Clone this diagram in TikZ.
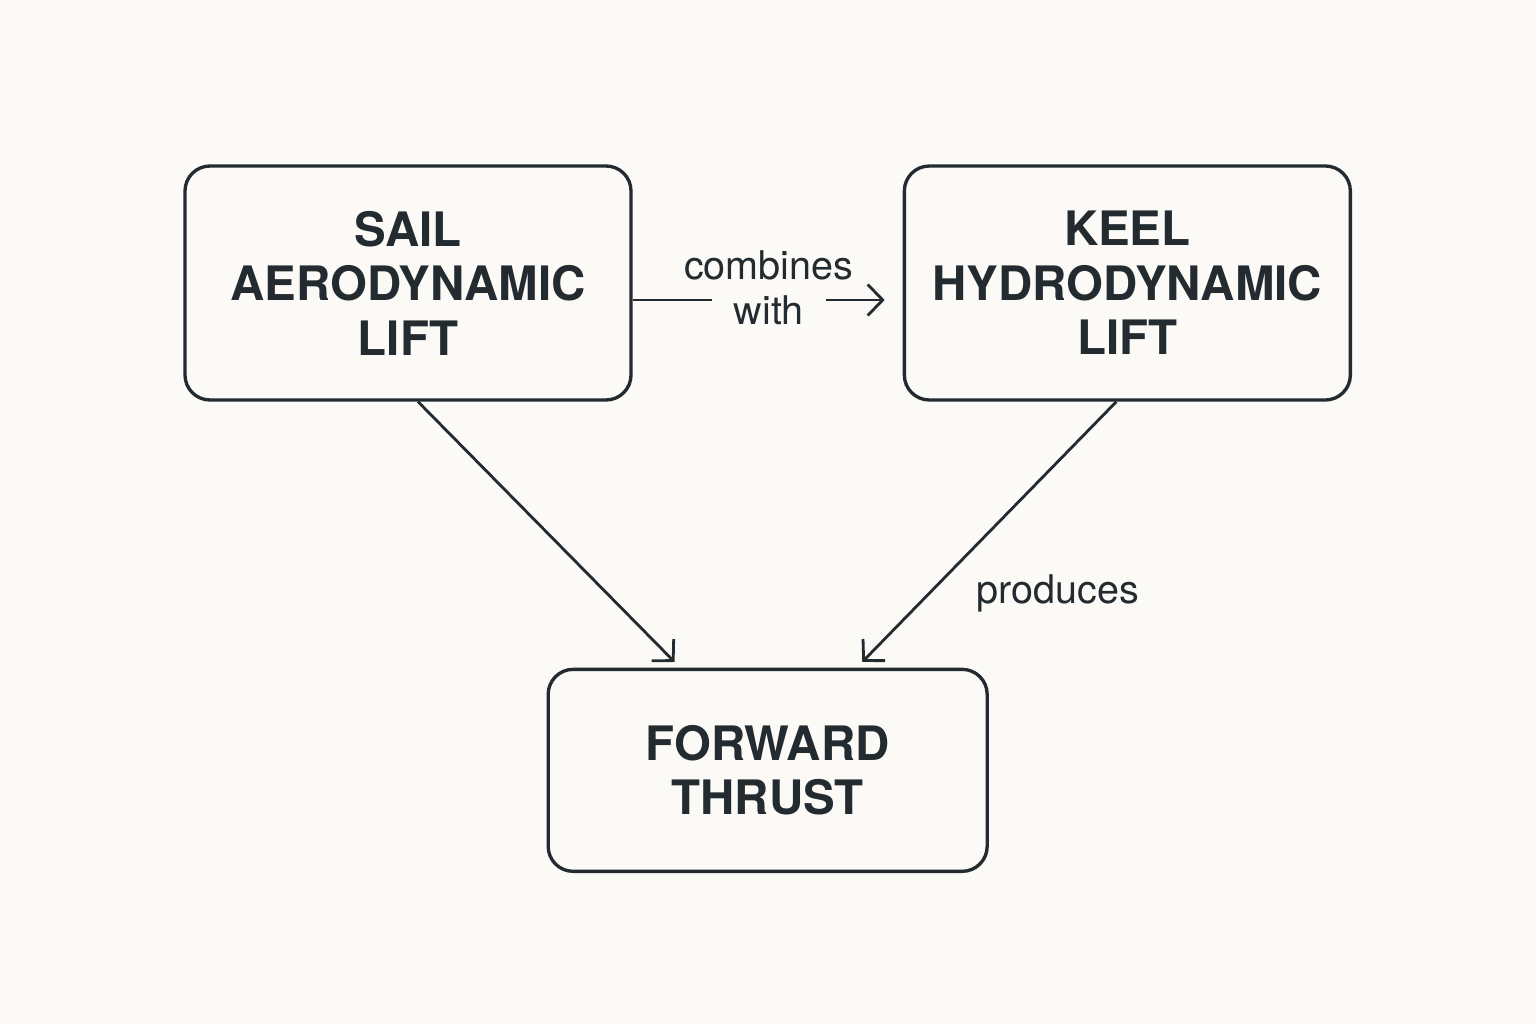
\documentclass[tikz,border=0pt]{standalone}
\usepackage{fontspec}
\setmainfont{TeX Gyre Heros}
\usepackage{tikz}
\usetikzlibrary{arrows.meta,positioning,calc}
\definecolor{ink}{RGB}{35,43,48}
\definecolor{paper}{RGB}{251,250,246}

\begin{document}
\begin{tikzpicture}[
  block/.style={rectangle,rounded corners=5mm,draw=ink,line width=1.9pt,fill=paper,text=ink,align=center,
    font=\bfseries\fontsize{27}{31}\selectfont,minimum width=8.92cm,minimum height=4.68cm},
  arrow/.style={-{Straight Barb[length=3mm,width=6.2mm]},line width=1.6pt,draw=ink},
  lbl/.style={text=ink,font=\fontsize{22.5}{26}\selectfont,align=center}
]
\fill[paper] (0,0) rectangle (30.72,20.48);
\useasboundingbox (0,0) rectangle (30.72,20.48);
\node[block] (sail) at (8.16,14.82) {SAIL\\AERODYNAMIC\\LIFT};
\node[block,right=5.4cm of sail] (keel) {KEEL\\HYDRODYNAMIC\\LIFT};
\coordinate (mid) at ($(sail.south)!0.5!(keel.south)$);
\node[block,below=5.32cm of mid,minimum width=8.78cm,minimum height=4.04cm] (thrust) {FORWARD\\THRUST};
\draw[arrow] ([yshift=-3.4mm]sail.east) -- ([xshift=-3.6mm,yshift=-3.4mm]keel.west)
  node[lbl,pos=.54,yshift=-2mm,fill=paper,inner xsep=4.4mm,inner ysep=1pt,
    label={[lbl,inner sep=1pt,label distance=1.8mm]above:combines}] (with) {with};
\draw[arrow,shorten >=1.6mm] ([xshift=2mm]sail.south) -- ([xshift=-17.5mm]thrust.north);
\draw[arrow,shorten >=1.6mm] ([xshift=-2.2mm]keel.south) -- ([xshift=17.8mm]thrust.north)
  node[lbl,pos=.72,right=8mm] (prod) {produces};
\end{tikzpicture}
\end{document}
